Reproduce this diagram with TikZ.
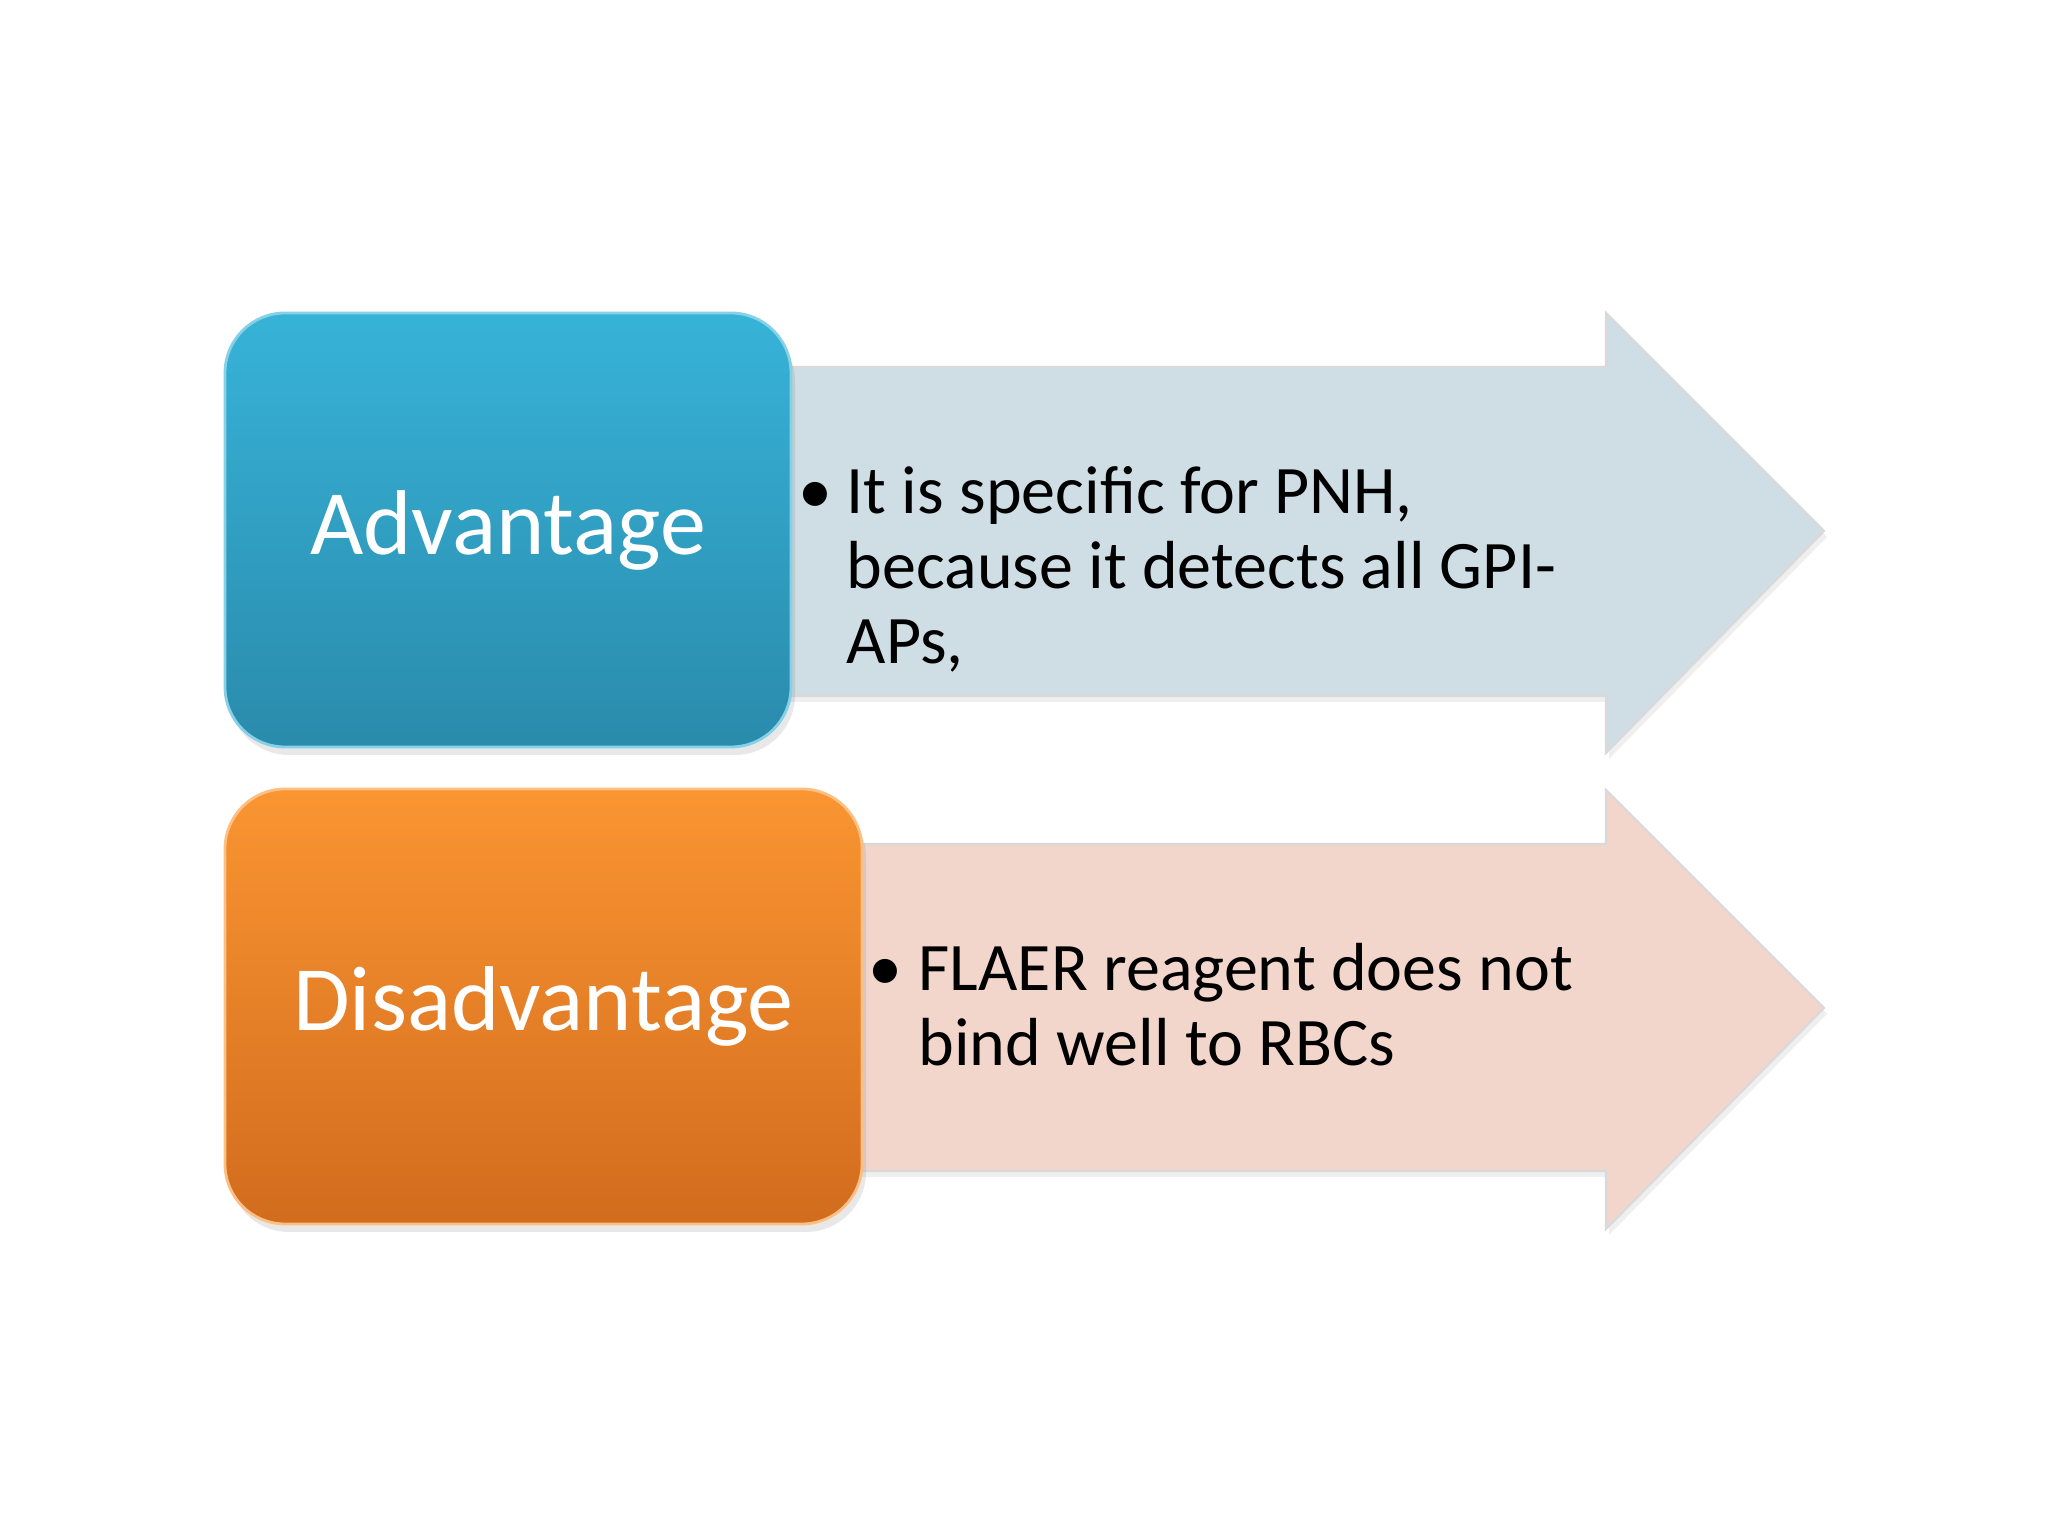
\documentclass[tikz,border=0pt]{standalone}
\usepackage{fontspec}
\setmainfont{Carlito}
\usetikzlibrary{shadows}

\definecolor{advtop}{HTML}{37B3D8}
\definecolor{advbot}{HTML}{2A8BAC}
\definecolor{disadvtop}{HTML}{FA9532}
\definecolor{disadvbot}{HTML}{D26C1E}
\definecolor{advarrow}{HTML}{CEDEE4}
\definecolor{disadvarrow}{HTML}{F2D6CC}

\begin{document}
\begin{tikzpicture}[
  headbox/.style={rounded corners=0.6cm, inner sep=0pt, text=white,
    font=\fontsize{26.2}{30}\selectfont,
    drop shadow={opacity=0.18, shadow xshift=0.04cm, shadow yshift=-0.08cm}},
  bigarrow/.style={draw=white!85!black, line width=0.6pt,
    drop shadow={opacity=0.12, shadow xshift=0.03cm, shadow yshift=-0.06cm}},
  bullettext/.style={inner sep=0pt, align=left, text=black,
    font=\fontsize{19.35}{21.34}\selectfont}]
\useasboundingbox[fill=white] (0,0) rectangle (20.48,15.36);

% arrows behind the boxes
\draw[bigarrow, fill=advarrow] (7.85,11.69) -- (16.06,11.69) -- (16.06,12.23)
  -- (18.24,10.05) -- (16.06,7.83) -- (16.06,8.40) -- (7.85,8.40) -- cycle;
\draw[bigarrow, fill=disadvarrow] (8.55,6.92) -- (16.06,6.92) -- (16.06,7.46)
  -- (18.24,5.28) -- (16.06,3.07) -- (16.06,3.65) -- (8.55,3.65) -- cycle;

% coloured boxes
\node[headbox, top color=advtop, bottom color=advbot, draw=advtop!60!white,
  line width=0.8pt, minimum width=5.66cm, minimum height=4.34cm]
  (adv) at (5.08,10.06) {Advantage};
\node[headbox, top color=disadvtop, bottom color=disadvbot, draw=disadvtop!60!white,
  line width=0.8pt, minimum width=6.37cm, minimum height=4.35cm]
  (disadv) at (5.435,5.295) {Disadvantage};

% bullet texts (base = last line)
\node[bullettext, anchor=base] (advbullet) at (8.15,10.22) {\textbullet};
\node[bullettext, anchor=base west] (advtext) at (8.46,8.72)
  {It is specific for PNH,\\because it detects all GPI-\\APs,};
\node[bullettext, anchor=base] (disadvbullet) at (8.85,5.45) {\textbullet};
\node[bullettext, anchor=base west] (disadvtext) at (9.18,4.70)
  {FLAER reagent does not\\bind well to RBCs};
\end{tikzpicture}
\end{document}
